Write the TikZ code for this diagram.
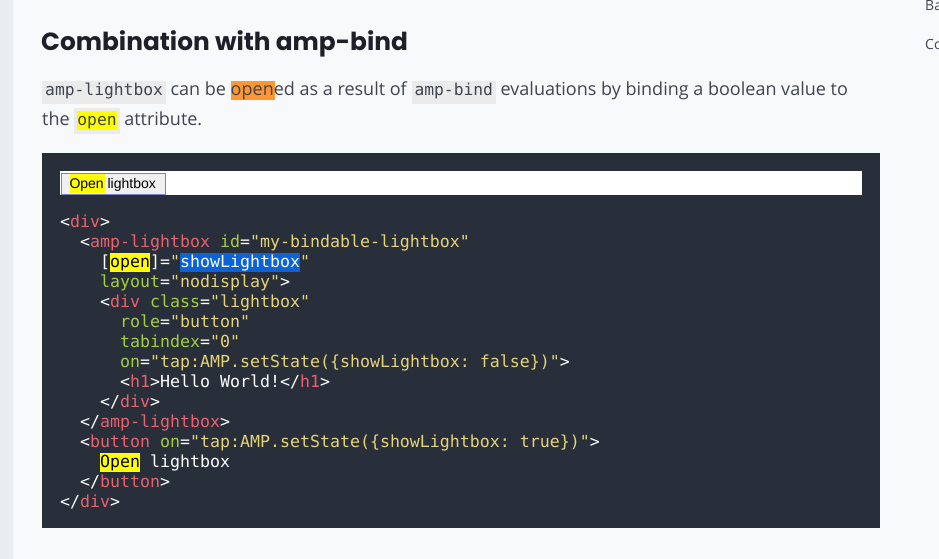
\documentclass[tikz,border=0pt]{standalone}
\usepackage{fontspec}
\setmainfont{Open Sans}
\newfontfamily\titlefont{Poppins}
\newfontfamily\codefont{DejaVu Sans Mono}
\newfontfamily\btnfont{Liberation Sans}
\definecolor{pagebg}{HTML}{F8F9FB}
\definecolor{strip}{HTML}{E9EDF2}
\definecolor{codebg}{HTML}{282F3B}
\definecolor{tagc}{HTML}{EF5F6B}
\definecolor{attrc}{HTML}{A5CF3A}
\definecolor{strc}{HTML}{E6D474}
\definecolor{selc}{HTML}{0B63D6}
\definecolor{hly}{HTML}{FFFF00}
\definecolor{hlo}{HTML}{FF9632}
\definecolor{inl}{HTML}{EBEBEB}
\definecolor{bodyc}{HTML}{3F4450}
\definecolor{titlec}{HTML}{1E2029}
\frenchspacing
\newcommand{\hlbg}[3]{\makebox[0pt][l]{\color{#1}\rule[-4.5pt]{#2pt}{19pt}}#3}
\newcommand{\T}[1]{\textcolor{tagc}{#1}}
\newcommand{\A}[1]{\textcolor{attrc}{#1}}
\newcommand{\Sv}[1]{\textcolor{strc}{#1}}
\newcommand{\inlcode}[1]{{\setlength{\fboxsep}{3pt}\colorbox{inl}{\codefont\fontsize{16.3}{16}\selectfont\strut #1}}}
\tikzset{codeline/.style={anchor=base west, inner sep=0pt, text=white, font=\codefont\fontsize{16.6}{18}\selectfont},
 para/.style={anchor=base west, inner sep=0pt, text=bodyc, font=\fontsize{18}{20}\selectfont}}
\begin{document}
\begin{tikzpicture}[x=1pt,y=-1pt]
\useasboundingbox (0,0) rectangle (939,559);
\fill[pagebg] (0,0) rectangle (939,559);
\fill[strip] (0,0) rectangle (13,559);
\begin{scope}
\clip (0,0) rectangle (939,559);
\node[anchor=base west, inner sep=0pt, text=bodyc, font=\fontsize{14}{14}\selectfont] (ba) at (925,11) {Ba};
\node[anchor=base west, inner sep=0pt, text=bodyc, font=\fontsize{14}{14}\selectfont] (co) at (925,50) {Co};
\end{scope}
\node[anchor=base west, inner sep=0pt, text=titlec, font=\titlefont\bfseries\fontsize{24.8}{26}\selectfont] (title) at (41,51) {Combination with amp-bind};
\node[para] (p1) at (42,96) {\inlcode{amp-lightbox} can be \hlbg{hlo}{44}{open}ed as a result of \inlcode{amp-bind} evaluations by binding a boolean value to};
\node[para] (p2) at (42,126) {the \inlcode{\hlbg{hly}{40}{open}} attribute.};
\fill[codebg] (42,153) rectangle (880,528);
\fill[white] (60,171) rectangle (862,195);
\node[draw=blue!45!gray!70, fill=gray!12, minimum width=104pt, minimum height=21pt, inner sep=0pt, anchor=north west, font=\btnfont\fontsize{14}{14}\selectfont] (btn) at (60.5,172.5) {\hlbg{hly}{35}{Open} lightbox};
\node[codeline] (l1) at (60,227) {<\T{div}>};
\node[codeline] (l2) at (80,247) {<\T{amp-lightbox} \A{id}=\Sv{"my-bindable-lightbox"}};
\node[codeline] (l3) at (100,267) {[\hlbg{hly}{40}{\textcolor{black}{open}}]=\Sv{"}\hlbg{selc}{120}{showLightbox}\Sv{"}};
\node[codeline] (l4) at (100,287) {\A{layout}=\Sv{"nodisplay"}>};
\node[codeline] (l5) at (100,307) {<\T{div} \A{class}=\Sv{"lightbox"}};
\node[codeline] (l6) at (120,327) {\A{role}=\Sv{"button"}};
\node[codeline] (l7) at (120,347) {\A{tabindex}=\Sv{"0"}};
\node[codeline] (l8) at (120,367) {\A{on}=\Sv{"tap:AMP.setState(\{showLightbox: false\})"}>};
\node[codeline] (l9) at (120,387) {<\T{h1}>Hello World!</\T{h1}>};
\node[codeline] (l10) at (100,407) {</\T{div}>};
\node[codeline] (l11) at (80,427) {</\T{amp-lightbox}>};
\node[codeline] (l12) at (80,447) {<\T{button} \A{on}=\Sv{"tap:AMP.setState(\{showLightbox: true\})"}>};
\node[codeline] (l13) at (100,467) {\hlbg{hly}{40}{\textcolor{black}{Open}} lightbox};
\node[codeline] (l14) at (80,487) {</\T{button}>};
\node[codeline] (l15) at (60,507) {</\T{div}>};
\end{tikzpicture}
\end{document}
